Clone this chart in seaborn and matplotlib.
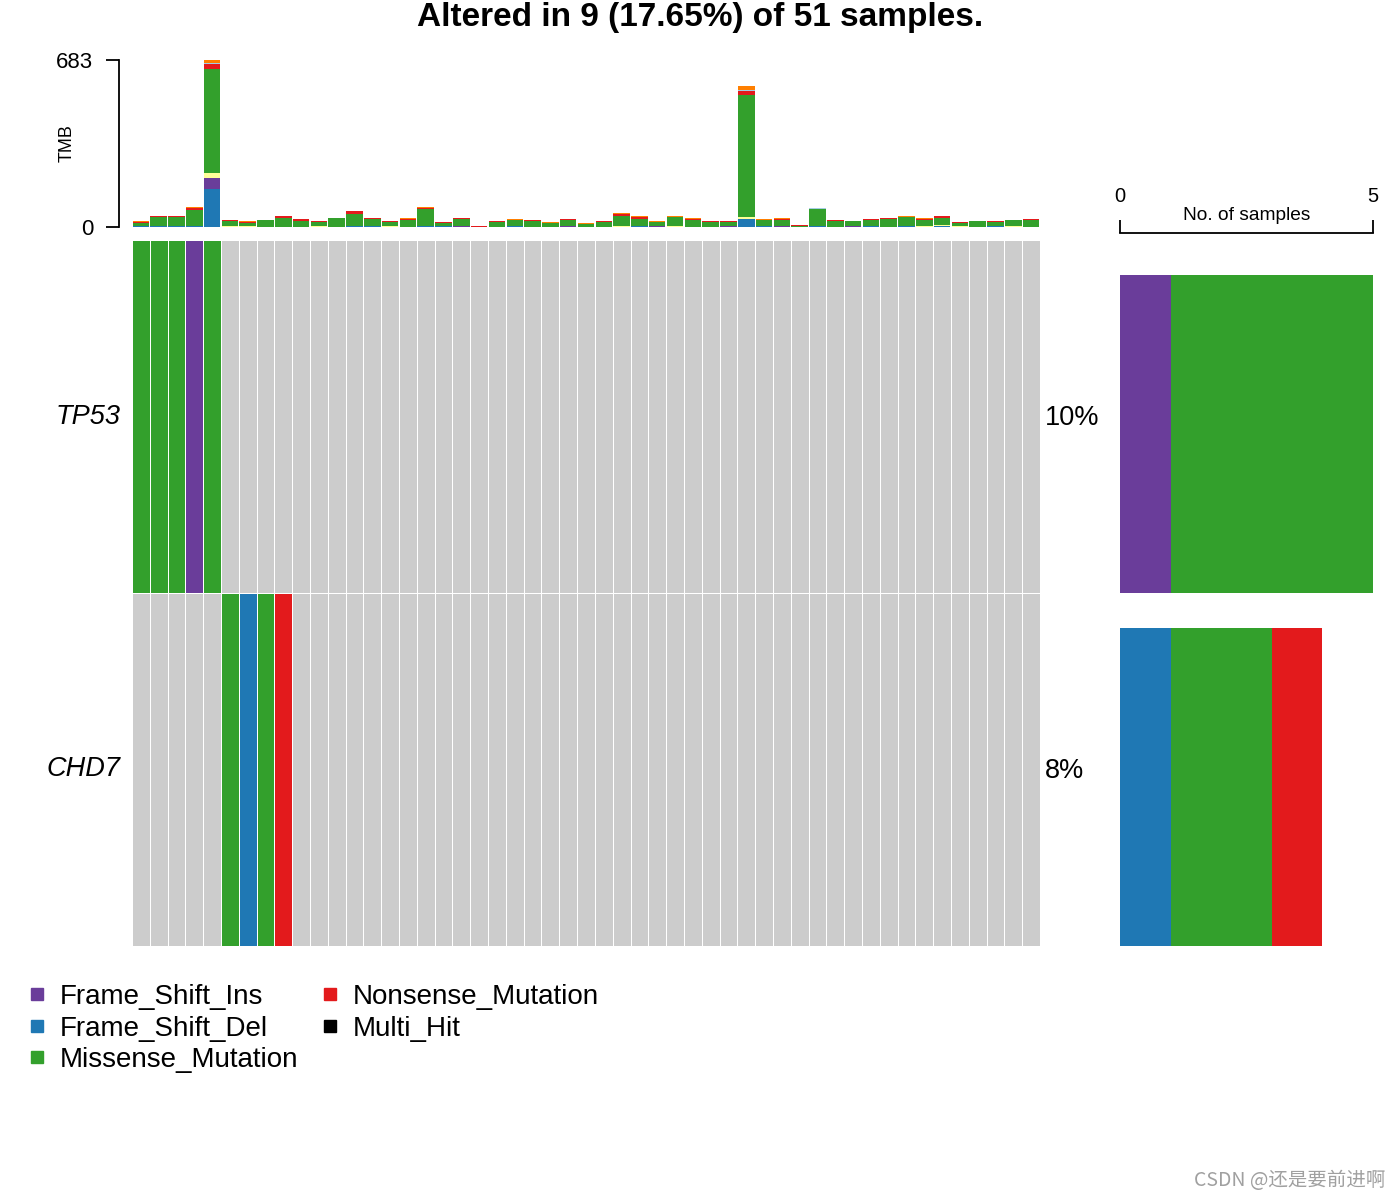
import numpy as np
import pandas as pd
import matplotlib
matplotlib.use("Agg")
import matplotlib.pyplot as plt
from matplotlib.colors import ListedColormap
from matplotlib.lines import Line2D
import seaborn as sns

# ---------------- data ----------------
n_samples = 51
title = "Altered in 9 (17.65%) of 51 samples."
genes = ["TP53", "CHD7"]

# oncoplot calls (sample number 1..51 -> variant class)
tp53_samples = [1, 2, 3, 4, 5]
tp53_classes = ["Missense_Mutation", "Missense_Mutation", "Missense_Mutation",
                "Frame_Shift_Ins", "Missense_Mutation"]
chd7_samples = [6, 7, 8, 9]
chd7_classes = ["Missense_Mutation", "Frame_Shift_Del", "Missense_Mutation",
                "Nonsense_Mutation"]

# TMB stacked bars per sample (variant counts by class)
tmb_fsd = [4, 4, 4, 4, 154, 0, 0, 0, 0, 0, 0, 0, 4, 4, 0, 0, 4, 4, 0, 0,
           0, 4, 0, 0, 0, 0, 0, 0, 4, 0, 0, 0, 0, 0, 32, 4, 0, 0, 4, 0,
           0, 4, 0, 4, 0, 4, 0, 0, 4, 0, 0]
tmb_fsi = [0, 0, 0, 0, 45, 0, 0, 0, 0, 0, 0, 0, 0, 0, 0, 0, 0, 0, 4, 0,
           0, 0, 0, 0, 4, 0, 0, 0, 0, 4, 0, 0, 0, 4, 0, 0, 4, 0, 0, 0,
           4, 0, 0, 0, 0, 0, 0, 0, 0, 0, 0]
tmb_ifd = [0, 0, 0, 0, 20, 4, 4, 0, 0, 0, 4, 0, 0, 0, 4, 0, 0, 0, 0, 0,
           0, 0, 0, 0, 0, 0, 0, 4, 0, 0, 4, 0, 0, 0, 8, 0, 0, 0, 0, 0,
           0, 0, 0, 0, 4, 4, 4, 0, 0, 4, 0]
tmb_mis = [12, 37, 37, 65, 427, 20, 12, 28, 37, 24, 16, 37, 49, 28, 16, 28, 69, 12, 28, 0,
           20, 24, 24, 16, 24, 12, 20, 40, 28, 16, 37, 28, 20, 16, 500, 24, 24, 4, 69, 24,
           20, 24, 32, 37, 24, 28, 12, 24, 16, 24, 28]
tmb_non = [4, 4, 4, 8, 19, 4, 4, 0, 8, 8, 4, 0, 12, 4, 4, 4, 4, 4, 4, 4,
           4, 0, 4, 0, 4, 0, 4, 8, 8, 0, 0, 4, 4, 4, 16, 0, 4, 4, 0, 4,
           0, 4, 4, 0, 4, 8, 4, 0, 4, 0, 4]
tmb_nst = [0, 0, 0, 0, 4, 0, 0, 0, 0, 0, 0, 0, 0, 0, 0, 0, 0, 0, 0, 0,
           0, 0, 0, 0, 0, 0, 0, 0, 0, 0, 0, 0, 0, 0, 4, 0, 0, 0, 4, 0,
           0, 0, 0, 0, 0, 0, 0, 0, 0, 0, 0]
tmb_spl = [4, 0, 0, 4, 14, 0, 4, 0, 0, 0, 0, 0, 0, 0, 0, 4, 4, 0, 0, 0,
           0, 4, 0, 4, 0, 4, 0, 4, 4, 4, 4, 4, 0, 0, 16, 4, 4, 0, 0, 0,
           0, 0, 0, 4, 4, 0, 0, 0, 0, 0, 0]
tmb_max = 683

legend_classes = ["Frame_Shift_Ins", "Frame_Shift_Del", "Missense_Mutation",
                  "Nonsense_Mutation", "Multi_Hit"]

colors = {
    "Frame_Shift_Ins": "#6A3D9A",
    "Frame_Shift_Del": "#1F78B4",
    "Missense_Mutation": "#33A02C",
    "Nonsense_Mutation": "#E31A1C",
    "Multi_Hit": "#000000",
    "In_Frame_Del": "#FFFF99",
    "Nonstop_Mutation": "#A6CEE3",
    "Splice_Site": "#FF7F00",
}
bg_grey = "#CCCCCC"

# ---------------- style ----------------
sns.set_theme(style="white")
plt.rcParams["font.family"] = ["Liberation Sans", "DejaVu Sans"]
plt.rcParams["text.color"] = "black"
plt.rcParams["axes.labelcolor"] = "black"
plt.rcParams["xtick.color"] = "black"
plt.rcParams["ytick.color"] = "black"

W, H = 1400, 1200
fig = plt.figure(figsize=(14, 12), dpi=100)


def px_axes(x0, y0, x1, y1):
    return fig.add_axes([x0 / W, 1 - y1 / H, (x1 - x0) / W, (y1 - y0) / H])


# ---------------- TMB bars ----------------
tmb_order_top_to_bottom = ["Splice_Site", "Nonstop_Mutation", "Nonsense_Mutation",
                           "Missense_Mutation", "In_Frame_Del", "Frame_Shift_Ins",
                           "Frame_Shift_Del"]
tmb_series = {
    "Frame_Shift_Del": tmb_fsd, "Frame_Shift_Ins": tmb_fsi, "In_Frame_Del": tmb_ifd,
    "Missense_Mutation": tmb_mis, "Nonsense_Mutation": tmb_non,
    "Nonstop_Mutation": tmb_nst, "Splice_Site": tmb_spl,
}
rows = []
for cls, vals in tmb_series.items():
    for i, v in enumerate(vals):
        rows.append((i, cls, v))
df_tmb = pd.DataFrame(rows, columns=["sample", "cls", "count"])

ax_tmb = px_axes(119, 60, 1040, 227)
sns.histplot(data=df_tmb, x="sample", weights="count", hue="cls",
             hue_order=tmb_order_top_to_bottom, multiple="stack", discrete=True,
             shrink=0.93, palette=colors, edgecolor="none", linewidth=0,
             alpha=1, legend=False, ax=ax_tmb)
cell_px = (1040 - 132) / n_samples
ax_tmb.set_xlim(-0.5 - (132 - 119) / cell_px, n_samples - 0.5)
ax_tmb.set_ylim(0, tmb_max)
ax_tmb.set_yticks([0, tmb_max])
ax_tmb.set_yticklabels(["0", str(tmb_max)])
ax_tmb.set_xticks([])
ax_tmb.set_xlabel("")
ax_tmb.set_ylabel("")
for s in ["top", "right", "bottom"]:
    ax_tmb.spines[s].set_visible(False)
ax_tmb.spines["left"].set_color("black")
ax_tmb.spines["left"].set_linewidth(1.3)
ax_tmb.tick_params(axis="y", left=True, direction="out", length=9.5, width=1.3,
                   pad=9, labelsize=16, colors="black")
ax_tmb.text(-0.0565, 0.5, "TMB", transform=ax_tmb.transAxes, rotation=90,
            ha="center", va="center", fontsize=13)

# ---------------- oncoplot matrix ----------------
code = {"Frame_Shift_Ins": 1, "Frame_Shift_Del": 2, "Missense_Mutation": 3,
        "Nonsense_Mutation": 4}
mat = np.zeros((len(genes), n_samples))
for s, c in zip(tp53_samples, tp53_classes):
    mat[0, s - 1] = code[c]
for s, c in zip(chd7_samples, chd7_classes):
    mat[1, s - 1] = code[c]

cmap = ListedColormap([bg_grey, colors["Frame_Shift_Ins"], colors["Frame_Shift_Del"],
                       colors["Missense_Mutation"], colors["Nonsense_Mutation"]])
ax_mat = px_axes(132, 240, 1040, 946)
sns.heatmap(mat, cmap=cmap, vmin=-0.5, vmax=4.5, linewidths=0.7, linecolor="white",
            cbar=False, xticklabels=False, yticklabels=genes, ax=ax_mat)
ax_mat.set_yticklabels(genes, rotation=0, fontstyle="italic", fontsize=19.5,
                       color="black")
ax_mat.tick_params(axis="y", length=0, pad=8)
gene_counts = [len(tp53_samples), len(chd7_samples)]
for i, n in enumerate(gene_counts):
    ax_mat.text(n_samples + 5 / cell_px, i + 0.505, f"{round(100 * n / n_samples)}%",
                ha="left", va="center", fontsize=19.5)

# ---------------- right bar (No. of samples) ----------------
rows = []
for gi, (samples, classes) in enumerate([(tp53_samples, tp53_classes),
                                          (chd7_samples, chd7_classes)]):
    for c in classes:
        rows.append((gi, c, 1))
df_bar = pd.DataFrame(rows, columns=["gene", "cls", "n"])
ax_bar = px_axes(1120, 240, 1373, 946)
sns.histplot(data=df_bar, y="gene", weights="n", hue="cls",
             hue_order=["Nonsense_Mutation", "Missense_Mutation", "Frame_Shift_Del",
                        "Frame_Shift_Ins"],
             multiple="stack", discrete=True, shrink=0.9, palette=colors,
             edgecolor="none", linewidth=0, alpha=1, legend=False, ax=ax_bar)
ax_bar.set_xlim(0, 5)
ax_bar.set_ylim(1.45, -0.55)
ax_bar.set_xlabel("")
ax_bar.set_ylabel("")
ax_bar.set_yticks([])
ax_bar.xaxis.tick_top()
ax_bar.set_xticks([0, 5])
ax_bar.set_xticklabels(["0", "5"])
for s in ["bottom", "left", "right"]:
    ax_bar.spines[s].set_visible(False)
ax_bar.spines["top"].set_position(("outward", 5))
ax_bar.spines["top"].set_color("black")
ax_bar.spines["top"].set_linewidth(1.3)
ax_bar.tick_params(axis="x", top=True, bottom=False, direction="out", length=9.5,
                   width=1.3, pad=10, labelsize=14.5, colors="black")
ax_bar.text(0.5, 1.035, "No. of samples", transform=ax_bar.transAxes,
            ha="center", va="center", fontsize=13.8)

# ---------------- title, legend, watermark ----------------
fig.text(0.5, 1 - 26 / H, title, ha="center", va="baseline", fontsize=24,
         fontweight="bold")

handles = [Line2D([], [], marker="s", linestyle="none", color=colors[c],
                  markersize=8) for c in legend_classes]
fig.legend(handles, legend_classes, loc="upper left",
           bbox_to_anchor=(26 / W, 1 - 984 / H), ncol=2, frameon=False,
           fontsize=20, handlelength=0.8, handletextpad=0.42, borderpad=0,
           borderaxespad=0, labelspacing=0.2, columnspacing=0.75)

fig.text(1 - 15 / W, 1 - 1180 / H, "CSDN @还是要前进啊", ha="right", va="center",
         fontsize=14, color="#a0a0a0",
         family=["Noto Sans CJK SC", "DejaVu Sans"])

fig.savefig("out.png", dpi=100)
